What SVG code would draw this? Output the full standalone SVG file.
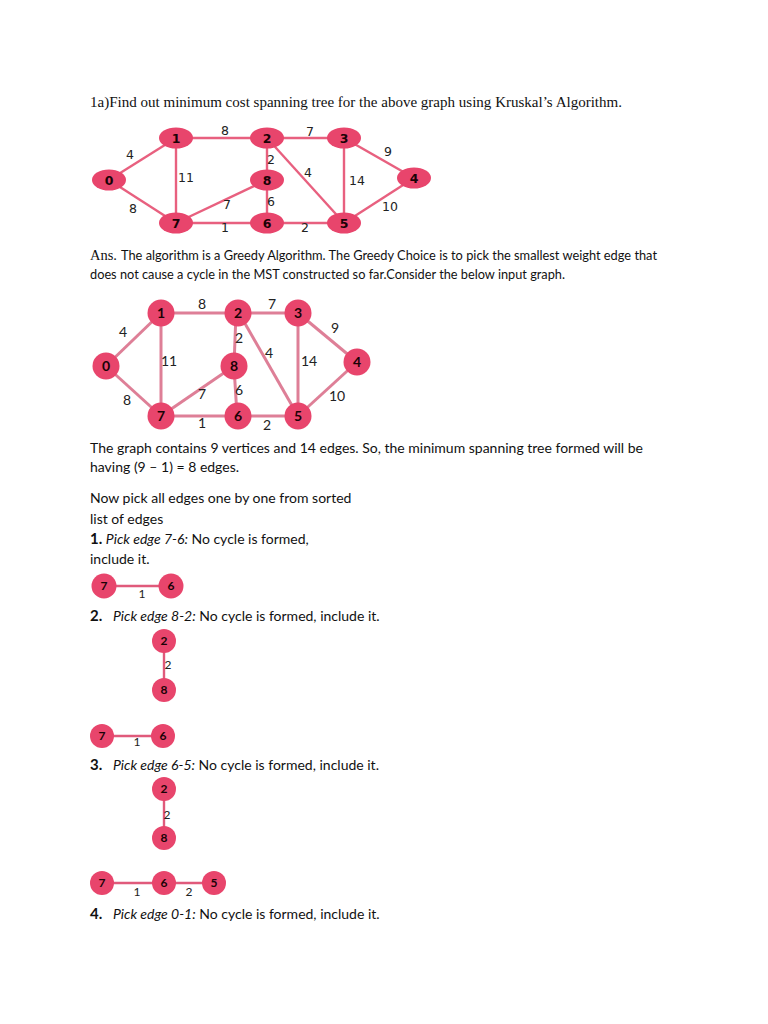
<svg xmlns="http://www.w3.org/2000/svg" width="768" height="1024" viewBox="0 0 768 1024">
<style>
.bg{fill:#ffffff}
.serif{font-family:"Liberation Serif","Times New Roman",serif;fill:#111}
.sans{font-family:Lato,"Open Sans","Liberation Sans",sans-serif;fill:#111;font-size:14px}
.e1{stroke:#e8607f;stroke-width:2.4;fill:none}
.e2{stroke:#de7f97;stroke-width:3;fill:none}
.e3{stroke:#e05a7b;stroke-width:2.4;fill:none}
.n{fill:#e8456c}
text.nl1{font-family:"DejaVu Sans",sans-serif;font-size:12.5px;font-weight:bold;fill:#1a0206;text-anchor:middle}
.el1{font-family:"DejaVu Sans",sans-serif;font-size:12.5px;fill:#222;text-anchor:middle}
text.nl2{font-family:Lato,"Open Sans",sans-serif;font-size:14px;font-weight:bold;fill:#1a0206;text-anchor:middle}
.el2{font-family:Lato,"Open Sans",sans-serif;font-size:14px;fill:#222;text-anchor:middle}
text.nl3{font-family:Lato,"Open Sans",sans-serif;font-size:12px;font-weight:bold;fill:#1a0206;text-anchor:middle}
.el3{font-family:Lato,"Open Sans",sans-serif;font-size:12px;fill:#222;text-anchor:middle}
</style>
<rect class="bg" x="0" y="0" width="768" height="1024"/>

<text class="serif" x="90" y="107" font-size="15" textLength="532" lengthAdjust="spacingAndGlyphs">1a)Find out minimum cost spanning tree for the above graph using Kruskal’s Algorithm.</text>

<!-- Graph A -->
<g id="graphA-edges">
<line class="e1" x1="109" y1="180" x2="176" y2="138"/>
<line class="e1" x1="109" y1="180" x2="176" y2="223"/>
<line class="e1" x1="176" y1="138" x2="267" y2="138"/>
<line class="e1" x1="176" y1="138" x2="176" y2="223"/>
<line class="e1" x1="267" y1="138" x2="344" y2="138"/>
<line class="e1" x1="267" y1="138" x2="267" y2="180"/>
<line class="e1" x1="267" y1="138" x2="344" y2="223"/>
<line class="e1" x1="344" y1="138" x2="414" y2="178"/>
<line class="e1" x1="344" y1="138" x2="344" y2="223"/>
<line class="e1" x1="414" y1="178" x2="344" y2="223"/>
<line class="e1" x1="176" y1="223" x2="267" y2="180"/>
<line class="e1" x1="267" y1="180" x2="267" y2="223"/>
<line class="e1" x1="176" y1="223" x2="267" y2="223"/>
<line class="e1" x1="267" y1="223" x2="344" y2="223"/>
<text class="el1" x="225" y="135">8</text>
<text class="el1" x="310" y="136">7</text>
<text class="el1" x="130" y="159">4</text>
<text class="el1" x="186" y="182">11</text>
<text class="el1" x="271" y="164">2</text>
<text class="el1" x="308" y="177">4</text>
<text class="el1" x="388" y="156">9</text>
<text class="el1" x="357" y="185">14</text>
<text class="el1" x="227" y="209">7</text>
<text class="el1" x="271" y="206">6</text>
<text class="el1" x="390" y="211">10</text>
<text class="el1" x="133" y="213">8</text>
<text class="el1" x="225" y="232">1</text>
<text class="el1" x="305" y="232">2</text>
</g>
<g id="A0"><ellipse class="n" cx="109" cy="180" rx="17" ry="10.5"/><text class="nl1" x="109" y="184.5" style="fill:#1a0206">0</text></g>
<g id="A1"><ellipse class="n" cx="176" cy="138" rx="17" ry="10.5"/><text class="nl1" x="176" y="142.5" style="fill:#1a0206">1</text></g>
<g id="A2"><ellipse class="n" cx="267" cy="138" rx="17" ry="10.5"/><text class="nl1" x="267" y="142.5" style="fill:#1a0206">2</text></g>
<g id="A3"><ellipse class="n" cx="344" cy="138" rx="17" ry="10.5"/><text class="nl1" x="344" y="142.5" style="fill:#1a0206">3</text></g>
<g id="A4"><ellipse class="n" cx="414" cy="178" rx="17" ry="10.5"/><text class="nl1" x="414" y="182.5" style="fill:#1a0206">4</text></g>
<g id="A8"><ellipse class="n" cx="267" cy="180" rx="17" ry="10.5"/><text class="nl1" x="267" y="184.5" style="fill:#1a0206">8</text></g>
<g id="A7"><ellipse class="n" cx="176" cy="223" rx="17" ry="10.5"/><text class="nl1" x="176" y="227.5" style="fill:#1a0206">7</text></g>
<g id="A6"><ellipse class="n" cx="267" cy="223" rx="17" ry="10.5"/><text class="nl1" x="267" y="227.5" style="fill:#1a0206">6</text></g>
<g id="A5"><ellipse class="n" cx="344" cy="223" rx="17" ry="10.5"/><text class="nl1" x="344" y="227.5" style="fill:#1a0206">5</text></g>

<text class="serif" x="90" y="260" font-size="14.5">Ans.</text>
<text class="sans" x="121" y="260" textLength="536" lengthAdjust="spacingAndGlyphs">The algorithm is a Greedy Algorithm. The Greedy Choice is to pick the smallest weight edge that</text>
<text class="sans" x="90" y="279" textLength="475" lengthAdjust="spacingAndGlyphs">does not cause a cycle in the MST constructed so far.Consider the below input graph.</text>

<!-- Graph B -->
<g id="graphB-edges">
<line class="e2" x1="106" y1="366" x2="161" y2="313"/>
<line class="e2" x1="106" y1="366" x2="161" y2="416"/>
<line class="e2" x1="161" y1="313" x2="239" y2="313"/>
<line class="e2" x1="161" y1="313" x2="161" y2="416"/>
<line class="e2" x1="239" y1="313" x2="298" y2="313"/>
<line class="e2" x1="236" y1="313" x2="234" y2="366"/>
<line class="e2" x1="239" y1="313" x2="298" y2="416"/>
<line class="e2" x1="298" y1="313" x2="357" y2="362"/>
<line class="e2" x1="298" y1="313" x2="298" y2="416"/>
<line class="e2" x1="357" y1="362" x2="298" y2="416"/>
<line class="e2" x1="161" y1="416" x2="234" y2="366"/>
<line class="e2" x1="234" y1="366" x2="237" y2="416"/>
<line class="e2" x1="161" y1="416" x2="238" y2="416"/>
<line class="e2" x1="238" y1="416" x2="298" y2="416"/>
<text class="el2" x="202" y="309">8</text>
<text class="el2" x="272" y="309">7</text>
<text class="el2" x="123" y="337">4</text>
<text class="el2" x="169" y="366">11</text>
<text class="el2" x="239" y="343">2</text>
<text class="el2" x="269" y="358">4</text>
<text class="el2" x="335" y="333">9</text>
<text class="el2" x="309" y="366">14</text>
<text class="el2" x="202" y="399">7</text>
<text class="el2" x="239" y="395">6</text>
<text class="el2" x="337" y="401">10</text>
<text class="el2" x="127" y="405">8</text>
<text class="el2" x="202" y="428">1</text>
<text class="el2" x="267" y="430">2</text>
</g>
<g id="B0"><circle class="n" cx="106" cy="366" r="13.5"/><text class="nl2" x="106" y="371" style="fill:#1a0206">0</text></g>
<g id="B1"><circle class="n" cx="161" cy="313" r="13.5"/><text class="nl2" x="161" y="318" style="fill:#1a0206">1</text></g>
<g id="B2"><circle class="n" cx="238" cy="313" r="13.5"/><text class="nl2" x="238" y="318" style="fill:#1a0206">2</text></g>
<g id="B3"><circle class="n" cx="298" cy="313" r="13.5"/><text class="nl2" x="298" y="318" style="fill:#1a0206">3</text></g>
<g id="B4"><circle class="n" cx="357" cy="362" r="13.5"/><text class="nl2" x="357" y="367" style="fill:#1a0206">4</text></g>
<g id="B8"><circle class="n" cx="234" cy="366" r="13.5"/><text class="nl2" x="234" y="371" style="fill:#1a0206">8</text></g>
<g id="B7"><circle class="n" cx="161" cy="416" r="13.5"/><text class="nl2" x="161" y="421" style="fill:#1a0206">7</text></g>
<g id="B6"><circle class="n" cx="238" cy="416" r="13.5"/><text class="nl2" x="238" y="421" style="fill:#1a0206">6</text></g>
<g id="B5"><circle class="n" cx="298" cy="416" r="13.5"/><text class="nl2" x="298" y="421" style="fill:#1a0206">5</text></g>

<text class="sans" x="90" y="453" textLength="553" lengthAdjust="spacingAndGlyphs">The graph contains 9 vertices and 14 edges. So, the minimum spanning tree formed will be</text>
<text class="sans" x="90" y="472">having (9 – 1) = 8 edges.</text>
<text class="sans" x="90" y="503">Now pick all edges one by one from sorted</text>
<text class="sans" x="90" y="524">list of edges</text>
<text class="sans" x="90" y="544"><tspan font-weight="bold" font-size="15">1.</tspan> <tspan font-style="italic">Pick edge 7-6:</tspan> No cycle is formed,</text>
<text class="sans" x="90" y="564">include it.</text>

<!-- Step 1 -->
<g id="s1-edges">
<line class="e3" x1="104" y1="586" x2="171" y2="586"/>
<text class="el3" x="142" y="598">1</text>
</g>
<g id="s1-7"><circle class="n" cx="104" cy="586" r="12.5"/><text class="nl3" x="104" y="590" style="fill:#1a0206">7</text></g>
<g id="s1-6"><circle class="n" cx="171" cy="586" r="12.5"/><text class="nl3" x="171" y="590" style="fill:#1a0206">6</text></g>

<text class="sans" x="90" y="621"><tspan font-weight="bold" font-size="15">2.</tspan><tspan x="113" font-style="italic">Pick edge 8-2:</tspan> No cycle is formed, include it.</text>

<!-- Step 2 -->
<g id="s2-edges">
<line class="e3" x1="164" y1="641" x2="164" y2="690"/>
<line class="e3" x1="102" y1="736" x2="163" y2="736"/>
<text class="el3" x="168" y="669">2</text>
<text class="el3" x="137" y="746">1</text>
</g>
<g id="s2-2"><circle class="n" cx="164" cy="641" r="12"/><text class="nl3" x="164" y="645" style="fill:#1a0206">2</text></g>
<g id="s2-8"><circle class="n" cx="164" cy="690" r="12"/><text class="nl3" x="164" y="694" style="fill:#1a0206">8</text></g>
<g id="s2-7"><circle class="n" cx="102" cy="736" r="12"/><text class="nl3" x="102" y="740" style="fill:#1a0206">7</text></g>
<g id="s2-6"><circle class="n" cx="163" cy="736" r="12"/><text class="nl3" x="163" y="740" style="fill:#1a0206">6</text></g>

<text class="sans" x="90" y="770"><tspan font-weight="bold" font-size="15">3.</tspan><tspan x="113" font-style="italic">Pick edge 6-5:</tspan> No cycle is formed, include it.</text>

<!-- Step 3 -->
<g id="s3-edges">
<line class="e3" x1="164" y1="789" x2="164" y2="838"/>
<line class="e3" x1="102" y1="883" x2="214" y2="883"/>
<text class="el3" x="167" y="819">2</text>
<text class="el3" x="137" y="896">1</text>
<text class="el3" x="189" y="896">2</text>
</g>
<g id="s3-2"><circle class="n" cx="164" cy="789" r="12"/><text class="nl3" x="164" y="793" style="fill:#1a0206">2</text></g>
<g id="s3-8"><circle class="n" cx="164" cy="838" r="12"/><text class="nl3" x="164" y="842" style="fill:#1a0206">8</text></g>
<g id="s3-7"><circle class="n" cx="102" cy="883" r="12"/><text class="nl3" x="102" y="887" style="fill:#1a0206">7</text></g>
<g id="s3-6"><circle class="n" cx="164" cy="883" r="12"/><text class="nl3" x="164" y="887" style="fill:#1a0206">6</text></g>
<g id="s3-5"><circle class="n" cx="214" cy="883" r="12"/><text class="nl3" x="214" y="887" style="fill:#1a0206">5</text></g>

<text class="sans" x="90" y="919"><tspan font-weight="bold" font-size="15">4.</tspan><tspan x="113" font-style="italic">Pick edge 0-1:</tspan> No cycle is formed, include it.</text>
</svg>
